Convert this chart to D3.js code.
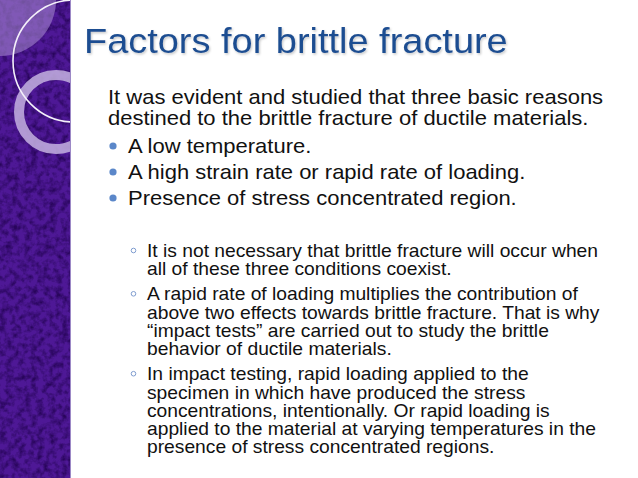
<!DOCTYPE html>
<html>
<head>
<meta charset="utf-8">
<script src="https://cdn.jsdelivr.net/npm/d3@7"></script>
<style>
  body { margin: 0; background: #fff; }
  svg { display: block; font-family: Arial, "Liberation Sans", sans-serif; }
</style>
</head>
<body>
<div id="slide"></div>
<script>
// Slide text
const titleText = "Factors for brittle fracture";
const introLines = [
  "It was evident and studied that three basic reasons",
  "destined to the brittle fracture of ductile materials."
];
const bullets = [
  "A low temperature.",
  "A high strain rate or rapid rate of loading.",
  "Presence of stress concentrated region."
];
const subBullets = [
  ["It is not necessary that brittle fracture will occur when",
   "all of these three conditions coexist."],
  ["A rapid rate of loading multiplies the contribution of",
   "above two effects towards brittle fracture. That is why",
   "\u201Cimpact tests\u201D are carried out to study the brittle",
   "behavior of ductile materials."],
  ["In impact testing, rapid loading applied to the",
   "specimen in which have produced the stress",
   "concentrations, intentionally.  Or rapid loading is",
   "applied to the material at varying temperatures in the",
   "presence of stress concentrated regions."]
];

const width = 638, height = 478;
const sx = 1.1; // the slide text is a little wider than the font

const svg = d3.select("#slide")
  .append("svg")
  .attr("width", width)
  .attr("height", height);

const defs = svg.append("defs");

// Grainy texture for the purple band
const noise = defs.append("filter").attr("id", "grain")
  .attr("x", 0).attr("y", 0).attr("width", "100%").attr("height", "100%")
  .attr("color-interpolation-filters", "sRGB");
noise.append("feTurbulence")
  .attr("type", "fractalNoise")
  .attr("baseFrequency", 0.16)
  .attr("numOctaves", 3)
  .attr("seed", 7)
  .attr("result", "n");
noise.append("feColorMatrix")
  .attr("in", "n")
  .attr("type", "matrix")
  .attr("values", "0 0 0 0 0.16  0 0 0 0 0.02  0 0 0 0 0.36  0 0 0 -2.2 1.35");

defs.append("clipPath").attr("id", "bandClip")
  .append("rect").attr("width", 70).attr("height", height);

const shadow = defs.append("filter").attr("id", "tshadow");
shadow.append("feDropShadow")
  .attr("dx", 1).attr("dy", 1.5).attr("stdDeviation", 1)
  .attr("flood-color", "#000").attr("flood-opacity", 0.22);

// Left band
const band = svg.append("g").attr("clip-path", "url(#bandClip)");
band.append("rect")
  .attr("width", 70).attr("height", height)
  .attr("fill", "#4e1896");
band.append("rect")
  .attr("width", 70).attr("height", height)
  .attr("filter", "url(#grain)");

band.append("circle")
  .attr("cx", 0).attr("cy", 0).attr("r", 56)
  .attr("fill", "#a184cc").attr("opacity", 0.6);

band.append("circle")
  .attr("cx", 56).attr("cy", 112).attr("r", 37)
  .attr("fill", "none")
  .attr("stroke", "#c4b2e0").attr("stroke-width", 10)
  .attr("opacity", 0.85);

band.append("circle")
  .attr("cx", 74).attr("cy", 61).attr("r", 61)
  .attr("fill", "none")
  .attr("stroke", "#f4f0fa").attr("stroke-width", 1.6);

svg.append("line")
  .attr("x1", 70.5).attr("x2", 70.5)
  .attr("y1", 0).attr("y2", height)
  .attr("stroke", "#9c88c6").attr("stroke-width", 1);

const place = (x, y) => `translate(${x},${y}) scale(${sx},1)`;

// Title
svg.append("text")
  .attr("transform", place(84, 53))
  .attr("font-size", 34.5)
  .attr("fill", "#1f4e91")
  .attr("filter", "url(#tshadow)")
  .text(titleText);

// Intro paragraph
svg.append("g").selectAll("text")
  .data(introLines)
  .join("text")
  .attr("transform", (d, i) => place(108, 104 + i * 20.5))
  .attr("font-size", 20)
  .attr("fill", "#111")
  .text(d => d);

// First level bullets
const b = svg.append("g").selectAll("g")
  .data(bullets)
  .join("g")
  .attr("transform", (d, i) => `translate(0,${153 + i * 26})`);
b.append("circle")
  .attr("cx", 113).attr("cy", -7).attr("r", 3.6)
  .attr("fill", "#5b87c9");
b.append("text")
  .attr("transform", place(128, 0))
  .attr("font-size", 20)
  .attr("fill", "#111")
  .text(d => d);

// Second level bullets
const lineH = 18.3, paraGap = 25;
let yStart = 257;
const starts = subBullets.map(p => {
  const y = yStart;
  yStart += (p.length - 1) * lineH + paraGap;
  return y;
});

const sb = svg.append("g").selectAll("g")
  .data(subBullets)
  .join("g")
  .attr("transform", (d, i) => `translate(0,${starts[i]})`);
sb.append("circle")
  .attr("cx", 133.5).attr("cy", -6.5).attr("r", 2.3)
  .attr("fill", "none")
  .attr("stroke", "#7f9dd0").attr("stroke-width", 1);
sb.selectAll("text")
  .data(d => d)
  .join("text")
  .attr("transform", (d, i) => place(147, i * lineH))
  .attr("font-size", 17.5)
  .attr("fill", "#111")
  .text(d => d);
</script>
</body>
</html>
